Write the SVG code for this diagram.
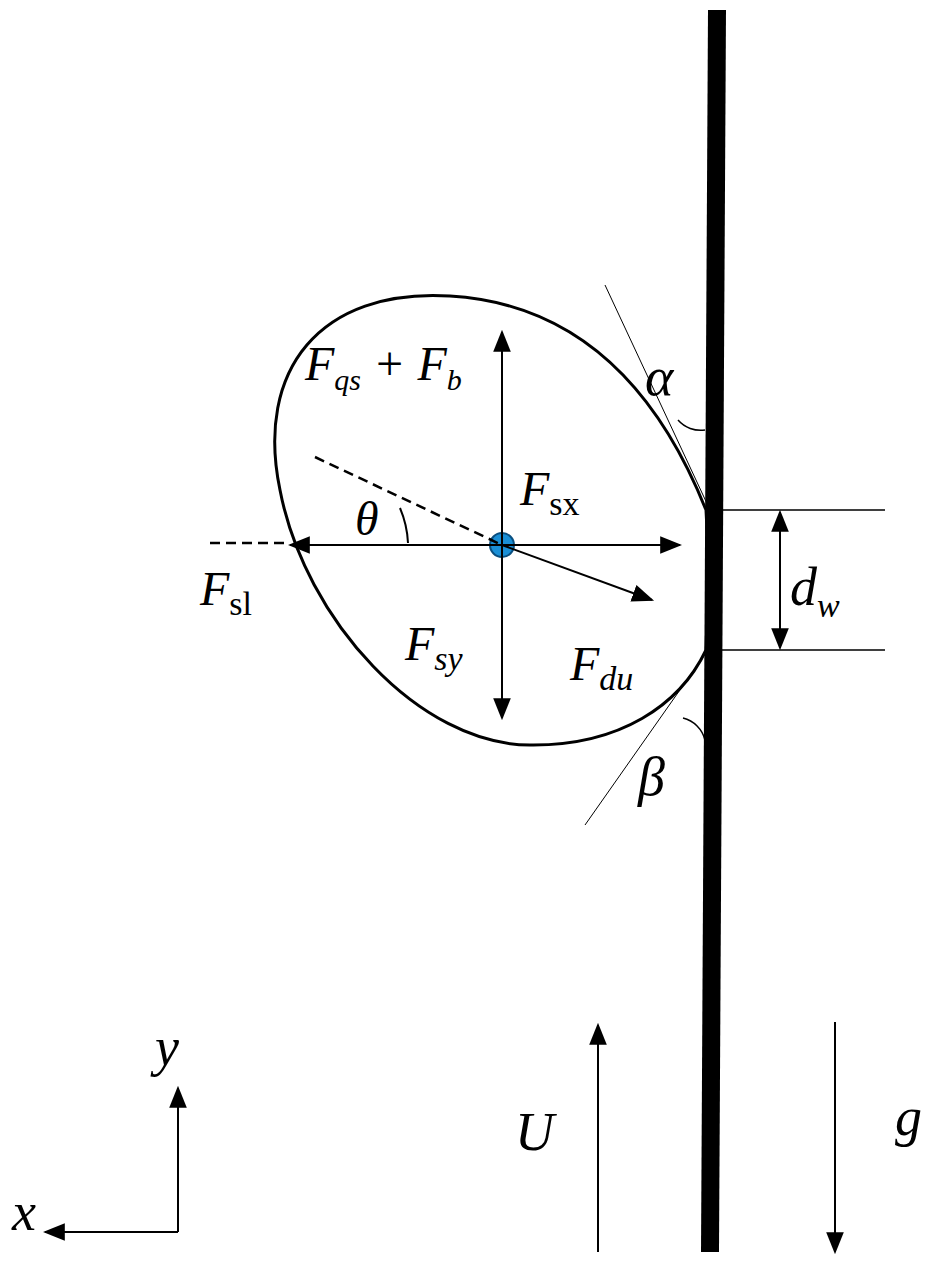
<svg xmlns="http://www.w3.org/2000/svg" width="950" height="1270" viewBox="0 0 950 1270">
<style>
.t{font-family:"Liberation Serif",serif;font-style:italic;fill:#000}
.l{stroke:#000;fill:none}
</style>
<defs>
<marker id="b" viewBox="0 0 10 10" refX="9" refY="5" markerWidth="22" markerHeight="22" markerUnits="userSpaceOnUse" orient="auto-start-reverse"><path d="M0,1L10,5L0,9z" fill="#000"/></marker>
</defs>
<g id="wall"><path d="M717,10 L710,1252" stroke="#000" stroke-width="18"/></g>
<g id="bubble"><path class="l" stroke-width="3" d="M706,510 C670,420 600,305 450,296 C320,288 255,370 280,490 C305,620 420,745 530,745 C620,746 680,705 706,650 C708,600 709,560 706,510 Z"/>
<circle cx="502" cy="545" r="12" fill="#1a8fd6" stroke="#0a4f80" stroke-width="2"/></g>
<g id="connectors" class="l" stroke-width="2">
<path d="M502,545V332" marker-end="url(#b)"/>
<path d="M502,545H680" marker-end="url(#b)"/>
<path d="M502,545H290" marker-end="url(#b)"/>
<path d="M502,545V718" marker-end="url(#b)"/>
<path d="M502,545L652,600" marker-end="url(#b)"/>
<path d="M210,543H290" stroke-dasharray="10,6" stroke-width="2.5"/>
<path d="M315,457L502,545" stroke-dasharray="10,6" stroke-width="2.5"/>
<path d="M400,508 A100,100 0 0 1 408,543" stroke-width="2"/>
<path d="M605,285L710,510" stroke-width="1"/>
<path d="M585,825L708,650" stroke-width="1"/>
<path d="M678,420 A30,30 0 0 0 705,430" stroke-width="1.5"/>
<path d="M683,718 A30,30 0 0 1 705,740" stroke-width="1.5"/>
<path d="M720,510H885M720,650H885" stroke-width="1.5"/>
<path d="M780,512V648" marker-start="url(#b)" marker-end="url(#b)"/>
<path d="M178,1232V1088" marker-end="url(#b)"/>
<path d="M178,1232H45" marker-end="url(#b)"/>
<path d="M598,1252V1025" marker-end="url(#b)"/>
<path d="M835,1022V1252" marker-end="url(#b)"/>
</g>
<g id="labels" class="t" font-size="48">
<text x="305" y="380">F<tspan font-size="30" dy="10">qs</tspan><tspan dy="-10"> + F</tspan><tspan font-size="30" dy="10">b</tspan></text>
<text x="520" y="505">F<tspan font-size="34" dy="10" font-style="normal">sx</tspan></text>
<text x="355" y="535">θ</text>
<text x="200" y="605">F<tspan font-size="34" dy="10" font-style="normal">sl</tspan></text>
<text x="405" y="660">F<tspan font-size="34" dy="10">sy</tspan></text>
<text x="570" y="680">F<tspan font-size="34" dy="10">du</tspan></text>
<text x="645" y="395" font-size="54">α</text>
<text x="638" y="795" font-size="54">β</text>
<text x="790" y="605" font-size="54">d<tspan font-size="34" dy="12">w</tspan></text>
<text x="155" y="1065" font-size="54">y</text>
<text x="12" y="1230" font-size="54">x</text>
<text x="515" y="1150" font-size="54">U</text>
<text x="895" y="1135" font-size="54">g</text>
</g>
</svg>
